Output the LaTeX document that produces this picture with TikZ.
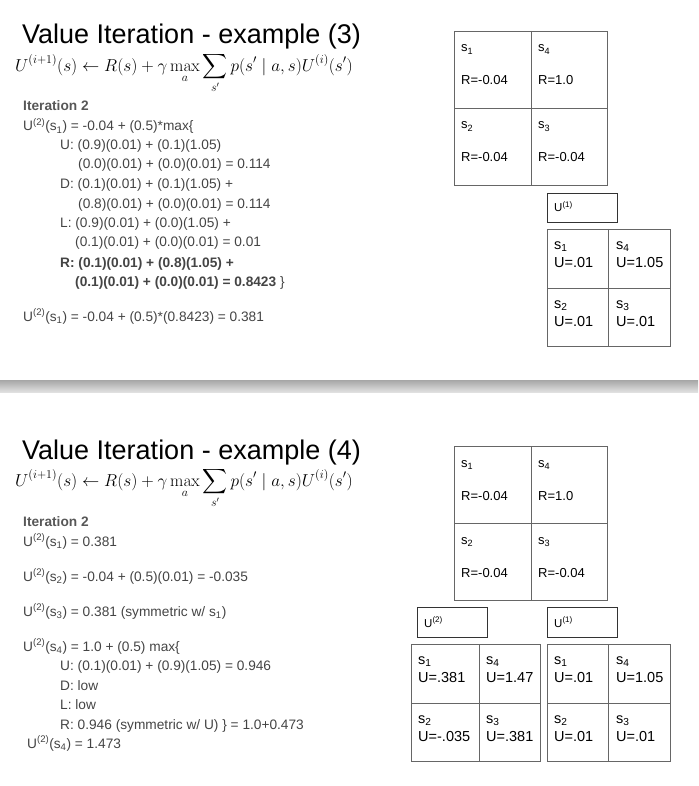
\documentclass[tikz,border=0pt]{standalone}
\usepackage{amsmath}
\usepackage[no-math]{fontspec}
\setmainfont{Liberation Sans}
\definecolor{txt}{HTML}{444444}
\definecolor{gridc}{HTML}{666666}
\newcommand{\Uss}[2]{U\textsuperscript{(#1)}(s\textsubscript{#2})}
\newcommand{\sub}[1]{s\textsubscript{#1}}
\tikzset{
  ln/.style={anchor=base west,inner sep=0pt,font=\fontsize{13.7}{15}\selectfont,text=txt},
  ttl/.style={anchor=base west,inner sep=0pt,font=\fontsize{27}{30}\selectfont,text=black},
  frm/.style={anchor=west,inner sep=0pt,font=\fontsize{16.5}{19}\selectfont},
  cell/.style={draw=gridc,line width=0.8pt},
  ct/.style={anchor=base west,inner sep=0pt,font=\fontsize{13}{14}\selectfont,text=black},
  cu/.style={anchor=base west,inner sep=0pt,font=\fontsize{14.5}{15}\selectfont,text=black,align=left},
}
\newcommand{\formula}{$\displaystyle U^{(i+1)}(s)\leftarrow R(s)+\gamma\max_a\sum_{s'}p(s'\mid a,s)U^{(i)}(s')$}
\begin{document}
\begin{tikzpicture}[x=1pt,y=-1pt]
\useasboundingbox (0,0) rectangle (698,786);
% ---------- top slide
\node[ttl] (t1) at (22,44) {Value Iteration - example (3)};
\node[frm] (f1) at (15,73) {\formula};
\node[ln,font=\bfseries\fontsize{13.7}{15}\selectfont,text=txt!90] (a1) at (23,111) {Iteration 2};
\node[ln] (a2) at (23,131) {\Uss{2}{1} = -0.04 + (0.5)*max\{};
\node[ln] (a3) at (60,150) {U: (0.9)(0.01) + (0.1)(1.05)};
\node[ln] (a4) at (78,169) {(0.0)(0.01) + (0.0)(0.01) = 0.114};
\node[ln] (a5) at (60,189) {D: (0.1)(0.01) + (0.1)(1.05) +};
\node[ln] (a6) at (78,208) {(0.8)(0.01) + (0.0)(0.01) = 0.114};
\node[ln] (a7) at (60,228) {L: (0.9)(0.01) + (0.0)(1.05) +};
\node[ln] (a8) at (75,247) {(0.1)(0.01) + (0.0)(0.01) = 0.01};
\node[ln,font=\bfseries\fontsize{13.7}{15}\selectfont] (a9) at (60,267) {R: (0.1)(0.01) + (0.8)(1.05) +};
\node[ln] (a10) at (75,286) {\textbf{(0.1)(0.01) + (0.0)(0.01) = 0.8423} \}};
\node[ln] (a11) at (23,321) {\Uss{2}{1} = -0.04 + (0.5)*(0.8423) = 0.381};
% reward grid top
\draw[cell] (454,31) rectangle (607,185);
\draw[cell] (531,31) -- (531,185);
\draw[cell] (454,108) -- (607,108);
\node[ct] (r1) at (461,52) {\sub{1}};
\node[ct] (r1b) at (461,85) {R=-0.04};
\node[ct] (r4) at (538,52) {\sub{4}};
\node[ct] (r4b) at (538,85) {R=1.0};
\node[ct] (r2) at (461,129) {\sub{2}};
\node[ct] (r2b) at (461,162) {R=-0.04};
\node[ct] (r3) at (538,129) {\sub{3}};
\node[ct] (r3b) at (538,162) {R=-0.04};
% U1 top
\draw[cell,draw=black!80] (547,193) rectangle (617,222);
\node[ct,font=\fontsize{11.5}{12}\selectfont] (u1l) at (554,212) {U\textsuperscript{(1)}};
\draw[cell] (547,229) rectangle (670,346);
\draw[cell] (608,229) -- (608,346);
\draw[cell] (547,288) -- (670,288);
\node[cu] (g1) at (554,249) {\sub{1}};
\node[cu] (g1b) at (554,267) {U=.01};
\node[cu] (g4) at (616,249) {\sub{4}};
\node[cu] (g4b) at (616,267) {U=1.05};
\node[cu] (g2) at (554,308) {\sub{2}};
\node[cu] (g2b) at (554,326) {U=.01};
\node[cu] (g3) at (616,308) {\sub{3}};
\node[cu] (g3b) at (616,326) {U=.01};
% ---------- separator
\shade[top color=black!35,bottom color=black!12] (0,380) rectangle (698,392);
% ---------- bottom slide
\node[ttl] (t2) at (22,459) {Value Iteration - example (4)};
\node[frm] (f2) at (15,488) {\formula};
\node[ln,font=\bfseries\fontsize{13.7}{15}\selectfont,text=txt!90] (b1) at (23,526) {Iteration 2};
\node[ln] (b2) at (23,546) {\Uss{2}{1} = 0.381};
\node[ln] (b3) at (23,581) {\Uss{2}{2} = -0.04 + (0.5)(0.01) = -0.035};
\node[ln] (b4) at (23,616) {\Uss{2}{3} = 0.381 (symmetric w/ \sub{1})};
\node[ln] (b5) at (23,651) {\Uss{2}{4} = 1.0 + (0.5) max\{};
\node[ln] (b6) at (60,670) {U: (0.1)(0.01) + (0.9)(1.05) = 0.946};
\node[ln] (b7) at (60,690) {D: low};
\node[ln] (b8) at (60,709) {L: low};
\node[ln] (b9) at (60,729) {R: 0.946 (symmetric w/ U) \} = 1.0+0.473};
\node[ln] (b10) at (27,748) {\Uss{2}{4} = 1.473};
% reward grid bottom
\draw[cell] (454,446) rectangle (607,600);
\draw[cell] (531,446) -- (531,600);
\draw[cell] (454,523) -- (607,523);
\node[ct] (q1) at (461,467) {\sub{1}};
\node[ct] (q1b) at (461,500) {R=-0.04};
\node[ct] (q4) at (538,467) {\sub{4}};
\node[ct] (q4b) at (538,500) {R=1.0};
\node[ct] (q2) at (461,544) {\sub{2}};
\node[ct] (q2b) at (461,577) {R=-0.04};
\node[ct] (q3) at (538,544) {\sub{3}};
\node[ct] (q3b) at (538,577) {R=-0.04};
% U2 bottom
\draw[cell,draw=black!80] (417,607) rectangle (487,637);
\node[ct,font=\fontsize{11.5}{12}\selectfont] (u2l) at (424,627) {U\textsuperscript{(2)}};
\draw[cell] (411,644) rectangle (540,761);
\draw[cell] (479,644) -- (479,761);
\draw[cell] (411,703) -- (540,703);
\node[cu] (h1) at (418,664) {\sub{1}};
\node[cu] (h1b) at (418,682) {U=.381};
\node[cu] (h4) at (486,664) {\sub{4}};
\node[cu] (h4b) at (486,682) {U=1.47};
\node[cu] (h2) at (418,723) {\sub{2}};
\node[cu] (h2b) at (418,741) {U=-.035};
\node[cu] (h3) at (486,723) {\sub{3}};
\node[cu] (h3b) at (486,741) {U=.381};
% U1 bottom
\draw[cell,draw=black!80] (547,607) rectangle (617,637);
\node[ct,font=\fontsize{11.5}{12}\selectfont] (u3l) at (554,627) {U\textsuperscript{(1)}};
\draw[cell] (547,644) rectangle (670,761);
\draw[cell] (608,644) -- (608,761);
\draw[cell] (547,703) -- (670,703);
\node[cu] (k1) at (554,664) {\sub{1}};
\node[cu] (k1b) at (554,682) {U=.01};
\node[cu] (k4) at (616,664) {\sub{4}};
\node[cu] (k4b) at (616,682) {U=1.05};
\node[cu] (k2) at (554,723) {\sub{2}};
\node[cu] (k2b) at (554,741) {U=.01};
\node[cu] (k3) at (616,723) {\sub{3}};
\node[cu] (k3b) at (616,741) {U=.01};
\end{tikzpicture}
\end{document}
